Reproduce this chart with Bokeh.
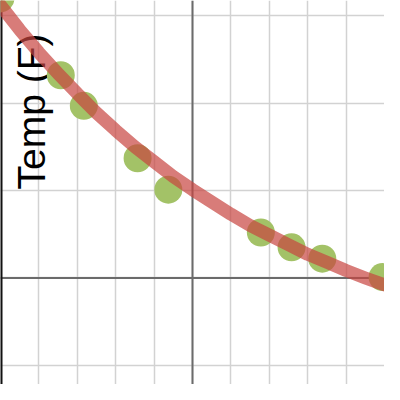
import math
from bokeh.plotting import figure
from bokeh.models import Span, FixedTicker, Range1d
from bokeh.core.properties import value
from bokeh.embed import file_html
from bokeh.resources import INLINE

# measured data points (grid units: x step 1 per vertical gridline, y step 1 per horizontal gridline)
point_x = [-5.0, -3.43, -2.83, -1.43, -0.63, 1.78, 2.58, 3.38, 4.95]
point_y = [3.20, 2.32, 1.97, 1.37, 1.01, 0.52, 0.35, 0.22, 0.01]

# fitted cooling curve
curve_x = [-5, -4.5, -4, -3.5, -3, -2.5, -2, -1.5, -1, -0.5, 0, 0.5, 1, 1.5, 2, 2.5, 3, 3.5, 4, 4.5, 5]
curve_y = [3.12, 2.84, 2.58, 2.34, 2.11, 1.89, 1.69, 1.50, 1.33, 1.16, 1.01, 0.87, 0.73, 0.60, 0.49, 0.38, 0.27, 0.18, 0.085, 0.0, -0.08]

x_ticks = [-5, -4, -3, -2, -1, 0, 1, 2, 3, 4, 5]
y_ticks = [-1, 0, 1, 2, 3]
y_label = "Temp (F)"

W = H = 384
p = figure(width=W, height=H, output_backend="svg", toolbar_location=None,
           x_range=Range1d(-5, 5), y_range=Range1d(-111 / 91, 289 / 91),
           min_border=0, background_fill_color="white", border_fill_color="white")
p.outline_line_color = None
p.xaxis.visible = False
p.yaxis.visible = False
p.xgrid.ticker = FixedTicker(ticks=x_ticks)
p.ygrid.ticker = FixedTicker(ticks=y_ticks)
for g in (p.xgrid, p.ygrid):
    g.grid_line_color = "#d2d2d2"
    g.grid_line_width = 1.5

p.add_layout(Span(location=0, dimension="height", line_color="#6b6b6b", line_width=2, level="underlay"))
p.add_layout(Span(location=0, dimension="width", line_color="#6b6b6b", line_width=2, level="underlay"))
p.add_layout(Span(location=-5, dimension="height", line_color="#111111", line_width=4, level="underlay"))

p.text(x=[-4.185], y=[1.905], text=[y_label], angle=math.pi / 2,
       text_align="center", text_baseline="alphabetic",
       text_font=value("Liberation Sans"), text_font_size="39px", text_color="black")

p.scatter(point_x, point_y, size=28, marker="circle", fill_color="#a3c267", line_color=None)
p.line(curve_x, curve_y, line_color="#c74440", line_alpha=0.7, line_width=13,
       line_join="round", line_cap="round")

open("out.html", "w").write(file_html(p, INLINE))
